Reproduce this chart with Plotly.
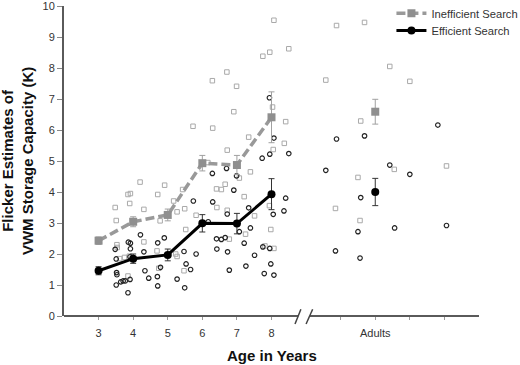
import plotly.graph_objects as go

# ---------------- data ----------------
ages = [3, 4, 5, 6, 7, 8]
ineff_mean = [2.43, 3.04, 3.26, 4.93, 4.87, 6.41]
ineff_err = [0.12, 0.16, 0.19, 0.25, 0.31, 0.82]
eff_mean = [1.46, 1.85, 1.97, 2.99, 2.98, 3.93]
eff_err = [0.13, 0.15, 0.19, 0.28, 0.33, 0.50]

adult_pos = [11]
adult_ineff_mean = [6.59]
adult_ineff_err = [0.40]
adult_eff_mean = [4.00]
adult_eff_err = [0.44]

# individual participants (x = age position, y = capacity)
ineff_pts_x = [8.07, 7.75, 7.95, 8.50, 6.71, 6.29, 6.99, 8.03, 6.91, 5.73, 6.30, 8.41, 7.34,
               8.37, 8.05, 6.72, 6.16, 7.39, 7.07, 6.66, 6.41, 6.55, 7.21, 6.42, 6.72, 7.51,
               7.94, 5.82, 7.25, 7.98, 6.78, 7.81, 8.07,
               4.20, 4.91, 3.85, 3.92, 4.71, 5.43, 3.90, 3.48, 4.31, 5.17, 5.49, 3.51, 4.78,
               5.52, 3.53, 3.54, 4.31, 4.69, 3.75, 3.89, 3.61, 5.23, 4.74, 5.47, 3.85, 5.27,
               5.27,
               9.88, 10.69, 11.42, 9.57, 12.00, 10.58, 13.06, 11.55, 10.50, 9.85, 10.56]
ineff_pts_y = [9.54, 8.38, 8.51, 8.62, 7.87, 7.59, 7.41, 6.74, 6.59, 6.12, 6.06, 6.27, 5.77,
               5.57, 5.37, 5.35, 4.95, 4.65, 4.45, 4.25, 4.10, 4.08, 3.85, 3.50, 3.41, 3.23,
               3.56, 3.25, 2.64, 2.79, 2.48, 2.26, 2.18,
               4.32, 4.22, 3.92, 3.95, 3.92, 4.08, 3.63, 3.50, 3.44, 3.71, 3.46, 3.08, 3.07,
               2.79, 2.30, 2.21, 2.39, 2.10, 1.89, 1.93, 1.85, 2.00, 1.54, 1.46, 1.29, 1.92,
               3.36,
               9.37, 9.47, 8.05, 7.61, 7.57, 6.29, 4.84, 4.73, 4.47, 3.47, 3.08]

eff_pts_x = [7.94, 8.07, 8.50, 7.95, 7.73, 6.70, 6.29, 6.99, 6.91, 5.74, 6.30, 7.34, 6.72,
             8.41, 8.36, 8.05, 6.17, 7.39, 7.07, 6.41, 6.55, 6.66, 7.21, 6.42, 6.73, 7.75,
             7.95, 7.51, 5.82, 7.98, 7.26, 6.78, 7.79, 8.07,
             4.21, 3.86, 3.92, 3.48, 3.92, 4.71, 4.90, 4.31, 3.51, 3.91, 4.34, 5.53, 5.66,
             3.52, 3.53, 4.79, 3.91, 4.45, 4.70, 3.64, 3.71, 3.77, 3.51, 4.71, 5.27, 3.85,
             5.49, 5.47,
             12.81, 9.88, 10.69, 11.42, 9.57, 12.00, 10.58, 10.50, 11.56, 13.06, 9.85, 10.56]
eff_pts_y = [7.04, 5.74, 5.24, 5.22, 5.09, 4.76, 4.60, 4.52, 4.06, 3.71, 3.68, 3.49, 3.29,
             3.80, 3.39, 3.28, 3.04, 2.84, 2.72, 2.49, 2.47, 2.53, 2.35, 2.16, 2.07, 2.23,
             2.18, 1.96, 2.00, 1.68, 1.61, 1.48, 1.37, 1.32,
             2.62, 2.38, 2.35, 2.15, 2.17, 2.36, 2.52, 2.07, 1.84, 1.91, 1.46, 1.68, 1.50,
             1.40, 1.33, 1.57, 1.18, 1.22, 1.27, 1.10, 1.13, 1.13, 1.00, 0.97, 1.19, 0.75,
             0.91, 2.08,
             6.16, 5.71, 5.81, 4.87, 4.70, 4.57, 3.82, 2.72, 2.84, 2.92, 2.10, 1.87]

x_tickvals = [3, 4, 5, 6, 7, 8, 10, 11, 12, 13]
x_ticktext = ["3", "4", "5", "6", "7", "8", "", "Adults", "", ""]
y_tickvals = list(range(0, 11))

x_range = [2, 14]
y_range = [0, 10]
break_left_end = 8.77
break_right_start = 9.11
slash_1 = [8.68, 8.85]
slash_2 = [9.00, 9.19]

FONT = "Liberation Sans, Arial, sans-serif"
GRAY_PT = "#a9a9a9"
GRAY_LINE = "#999999"
AXIS_COL = "#5a5a5a"

fig = go.Figure()

fig.add_trace(go.Scatter(
    x=ineff_pts_x, y=ineff_pts_y, mode="markers", showlegend=False, hoverinfo="skip",
    marker=dict(symbol="square-open", size=4.5, color=GRAY_PT, line=dict(width=1, color=GRAY_PT))))
fig.add_trace(go.Scatter(
    x=eff_pts_x, y=eff_pts_y, mode="markers", showlegend=False, hoverinfo="skip",
    marker=dict(symbol="circle-open", size=4.5, color="#222222", line=dict(width=1.2, color="#222222"))))

fig.add_trace(go.Scatter(
    x=ages, y=ineff_mean, mode="lines+markers", name="Inefficient Search", legend="legend",
    line=dict(color=GRAY_LINE, width=3.5, dash="9px,4px"),
    marker=dict(symbol="square", size=8, color="#8f8f8f"),
    error_y=dict(type="data", array=ineff_err, color="#a0a0a0", thickness=1, width=3)))
fig.add_trace(go.Scatter(
    x=ages, y=eff_mean, mode="lines+markers", name="Efficient Search", legend="legend2",
    line=dict(color="#000000", width=3),
    marker=dict(symbol="circle", size=8, color="#000000"),
    error_y=dict(type="data", array=eff_err, color="#333333", thickness=1, width=3)))

fig.add_trace(go.Scatter(
    x=adult_pos, y=adult_ineff_mean, mode="markers", showlegend=False,
    marker=dict(symbol="square", size=8, color="#8f8f8f"),
    error_y=dict(type="data", array=adult_ineff_err, color="#a0a0a0", thickness=1, width=3)))
fig.add_trace(go.Scatter(
    x=adult_pos, y=adult_eff_mean, mode="markers", showlegend=False,
    marker=dict(symbol="circle", size=8, color="#000000"),
    error_y=dict(type="data", array=adult_eff_err, color="#333333", thickness=1, width=3)))


def px(v):
    return (v - x_range[0]) / (x_range[1] - x_range[0])


shapes = [
    dict(type="line", xref="paper", yref="paper", x0=0, x1=px(break_left_end), y0=0, y1=0,
         line=dict(color=AXIS_COL, width=2)),
    dict(type="line", xref="paper", yref="paper", x0=px(break_right_start), x1=1, y0=0, y1=0,
         line=dict(color=AXIS_COL, width=2)),
    dict(type="line", xref="paper", yref="paper", x0=px(slash_1[0]), x1=px(slash_1[1]),
         y0=-0.026, y1=0.022, line=dict(color="#444444", width=1.5)),
    dict(type="line", xref="paper", yref="paper", x0=px(slash_2[0]), x1=px(slash_2[1]),
         y0=-0.026, y1=0.022, line=dict(color="#444444", width=1.5)),
]

legend_style = dict(xanchor="left", yanchor="top",
                    font=dict(size=11.2, color="#333333", family=FONT),
                    bgcolor="rgba(0,0,0,0)")

fig.update_layout(
    width=520, height=365,
    margin=dict(l=64, r=41, t=6, b=49, autoexpand=False),
    paper_bgcolor="white", plot_bgcolor="white",
    font=dict(family=FONT, color="#333333"),
    shapes=shapes,
    legend=dict(x=0.789, y=1.023, **legend_style),
    legend2=dict(x=0.789, y=0.968, **legend_style),
    annotations=[
        dict(text="Age in Years", xref="paper", yref="paper", x=0.5, y=-0.126,
             showarrow=False, xanchor="center", yanchor="middle",
             font=dict(size=15, color="#111111", family=FONT, weight="bold")),
        dict(text="Flicker Estimates of<br>VWM Storage Capacity (K)", xref="paper", yref="paper",
             x=-0.113, y=0.5, showarrow=False, textangle=-90, xanchor="center", yanchor="middle",
             font=dict(size=15, color="#111111", family=FONT, weight="bold")),
    ],
)

fig.update_xaxes(range=x_range, showgrid=False, zeroline=False, showline=False,
                 tickvals=x_tickvals, ticktext=x_ticktext, ticks="outside", ticklen=3,
                 tickcolor="#999999", tickfont=dict(size=11, color="#333333"),
                 ticklabelstandoff=4, automargin=False, ticklabeloverflow="allow")
fig.update_yaxes(range=y_range, showgrid=False, zeroline=False, showline=True,
                 linecolor=AXIS_COL, linewidth=2, tickvals=y_tickvals, ticks="outside",
                 ticklen=5, tickcolor="#888888", tickfont=dict(size=11, color="#333333"),
                 automargin=False, ticklabeloverflow="allow")

fig.write_html("out.html", config={"displayModeBar": False},
               post_script="document.body.style.margin='0';document.body.style.overflow='hidden';")
